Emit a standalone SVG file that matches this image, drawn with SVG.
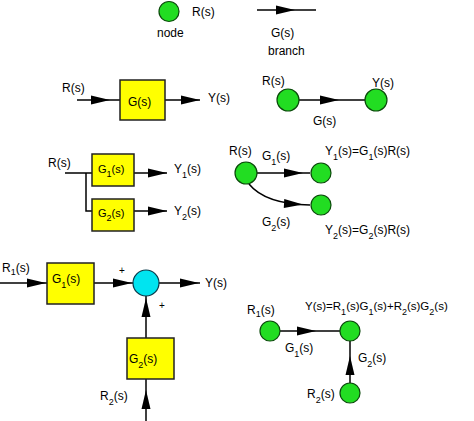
<svg xmlns="http://www.w3.org/2000/svg" xmlns:xlink="http://www.w3.org/1999/xlink" width="474" height="421" viewBox="0 0 474 421">
<style>
text{font-family:"Liberation Sans",Arial,sans-serif;font-size:12px;fill:#000}
.sub{font-size:9px}
.node{fill:#22dd22;stroke:#0a4a0a;stroke-width:1.2}
.sum{fill:#00e4f0;stroke:#0a3a4a;stroke-width:1.2}
.blk{fill:#ffff00;stroke:#222;stroke-width:1.5}
.ln{fill:none;stroke:#000;stroke-width:1.5}
.ah{fill:#000}
.pl{font-size:11px}
</style>
<defs>
<polygon id="ah" class="ah" points="0,0 -19,-4.5 -19,4.5"/>
</defs>
<rect width="474" height="421" fill="#fff"/>

<g id="connectors">
  <line class="ln" x1="257" y1="10" x2="316" y2="10"/>
  <use xlink:href="#ah" transform="translate(295,10)"/>
  <line class="ln" x1="77" y1="100" x2="120" y2="100"/>
  <use xlink:href="#ah" transform="translate(110,100)"/>
  <line class="ln" x1="165" y1="100" x2="200" y2="100"/>
  <use xlink:href="#ah" transform="translate(200,100)"/>
  <line class="ln" x1="298" y1="100" x2="366" y2="100"/>
  <use xlink:href="#ah" transform="translate(339,100)"/>
  <path class="ln" d="M65,173 H92 M86,173 V211 H92"/>
  <line class="ln" x1="134" y1="173" x2="167" y2="173"/>
  <use xlink:href="#ah" transform="translate(167,173)"/>
  <line class="ln" x1="134" y1="211" x2="167" y2="211"/>
  <use xlink:href="#ah" transform="translate(167,211)"/>
  <line class="ln" x1="256" y1="173" x2="310" y2="173"/>
  <use xlink:href="#ah" transform="translate(303,173)"/>
  <path class="ln" d="M249,184 Q265,204 310,205"/>
  <use xlink:href="#ah" transform="translate(303,204.5) rotate(3)"/>
  <line class="ln" x1="0" y1="283" x2="47" y2="283"/>
  <use xlink:href="#ah" transform="translate(46,283)"/>
  <line class="ln" x1="94" y1="283" x2="133" y2="283"/>
  <use xlink:href="#ah" transform="translate(132,283)"/>
  <line class="ln" x1="159" y1="283" x2="200" y2="283"/>
  <use xlink:href="#ah" transform="translate(199,283)"/>
  <line class="ln" x1="146" y1="338" x2="146" y2="296"/>
  <use xlink:href="#ah" transform="translate(146,298) rotate(-90)"/>
  <line class="ln" x1="146" y1="421" x2="146" y2="379"/>
  <use xlink:href="#ah" transform="translate(146,390) rotate(-90)"/>
  <line class="ln" x1="280" y1="331" x2="340" y2="331"/>
  <use xlink:href="#ah" transform="translate(316,331)"/>
  <line class="ln" x1="350" y1="383" x2="350" y2="341"/>
  <use xlink:href="#ah" transform="translate(350,356) rotate(-90)"/>
</g>

<g id="legend-node">
  <circle class="node" cx="169" cy="11.5" r="10"/>
  <text x="192" y="16">R(s)</text>
  <text x="157" y="37">node</text>
</g>
<g id="legend-branch">
  <text x="271" y="37">G(s)</text>
  <text x="268" y="55">branch</text>
</g>

<g id="b1-in"><text x="62" y="92">R(s)</text></g>
<g id="b1-block">
  <rect class="blk" x="120" y="80" width="45" height="40"/>
  <text x="128" y="106">G(s)</text>
</g>
<g id="b1-out"><text x="208" y="102">Y(s)</text></g>

<g id="f1-r">
  <circle class="node" cx="288" cy="100" r="11"/>
  <text x="262" y="85">R(s)</text>
</g>
<g id="f1-y">
  <circle class="node" cx="376" cy="100" r="11"/>
  <text x="372" y="87">Y(s)</text>
</g>
<g id="f1-g"><text x="313" y="125">G(s)</text></g>

<g id="p-in"><text x="48" y="167">R(s)</text></g>
<g id="p-g1">
  <rect class="blk" x="92" y="154" width="42" height="32"/>
  <text x="98" y="173" class="pl">G<tspan class="sub" dy="4">1</tspan><tspan dy="-4">(s)</tspan></text>
</g>
<g id="p-g2">
  <rect class="blk" x="92" y="199" width="42" height="32"/>
  <text x="98" y="217" class="pl">G<tspan class="sub" dy="4">2</tspan><tspan dy="-4">(s)</tspan></text>
</g>
<g id="p-y1"><text x="174" y="173">Y<tspan class="sub" dy="5">1</tspan><tspan dy="-5">(s)</tspan></text></g>
<g id="p-y2"><text x="174" y="215">Y<tspan class="sub" dy="5">2</tspan><tspan dy="-5">(s)</tspan></text></g>

<g id="f2-r">
  <circle class="node" cx="246" cy="173" r="11"/>
  <text x="229" y="155">R(s)</text>
</g>
<g id="f2-y1">
  <circle class="node" cx="321" cy="173" r="10"/>
  <text x="325" y="155">Y<tspan class="sub" dy="5">1</tspan><tspan dy="-5">(s)=G</tspan><tspan class="sub" dy="5">1</tspan><tspan dy="-5">(s)R(s)</tspan></text>
</g>
<g id="f2-y2">
  <circle class="node" cx="321" cy="205" r="10"/>
  <text x="325" y="234">Y<tspan class="sub" dy="5">2</tspan><tspan dy="-5">(s)=G</tspan><tspan class="sub" dy="5">2</tspan><tspan dy="-5">(s)R(s)</tspan></text>
</g>
<g id="f2-labels">
  <text x="262" y="160">G<tspan class="sub" dy="5">1</tspan><tspan dy="-5">(s)</tspan></text>
  <text x="262" y="226">G<tspan class="sub" dy="5">2</tspan><tspan dy="-5">(s)</tspan></text>
</g>

<g id="s-r1"><text x="2" y="272">R<tspan class="sub" dy="3">1</tspan><tspan dy="-3">(s)</tspan></text></g>
<g id="s-g1">
  <rect class="blk" x="47" y="263" width="47" height="41"/>
  <text x="52" y="283">G<tspan class="sub" dy="5">1</tspan><tspan dy="-5">(s)</tspan></text>
</g>
<g id="s-sum">
  <circle class="sum" cx="146" cy="283" r="13"/>
  <text x="119" y="274" style="font-size:10px">+</text>
  <text x="159" y="309" style="font-size:10px">+</text>
</g>
<g id="s-y"><text x="205" y="287">Y(s)</text></g>
<g id="s-g2">
  <rect class="blk" x="127" y="338" width="47" height="41"/>
  <text x="129" y="363">G<tspan class="sub" dy="5">2</tspan><tspan dy="-5">(s)</tspan></text>
</g>
<g id="s-r2"><text x="100" y="400">R<tspan class="sub" dy="5">2</tspan><tspan dy="-5">(s)</tspan></text></g>

<g id="f3-r1">
  <circle class="node" cx="270" cy="331" r="10"/>
  <text x="247" y="314">R<tspan class="sub" dy="3">1</tspan><tspan dy="-3">(s)</tspan></text>
</g>
<g id="f3-y">
  <circle class="node" cx="350" cy="331" r="10"/>
  <text x="305" y="310" style="font-size:11.5px">Y(s)=R<tspan class="sub" dy="5">1</tspan><tspan dy="-5">(s)G</tspan><tspan class="sub" dy="5">1</tspan><tspan dy="-5">(s)+R</tspan><tspan class="sub" dy="5">2</tspan><tspan dy="-5">(s)G</tspan><tspan class="sub" dy="5">2</tspan><tspan dy="-5">(s)</tspan></text>
</g>
<g id="f3-r2">
  <circle class="node" cx="350" cy="393" r="10"/>
  <text x="307" y="398">R<tspan class="sub" dy="5">2</tspan><tspan dy="-5">(s)</tspan></text>
</g>
<g id="f3-labels">
  <text x="285" y="352">G<tspan class="sub" dy="5">1</tspan><tspan dy="-5">(s)</tspan></text>
  <text x="358" y="362">G<tspan class="sub" dy="5">2</tspan><tspan dy="-5">(s)</tspan></text>
</g>
</svg>
